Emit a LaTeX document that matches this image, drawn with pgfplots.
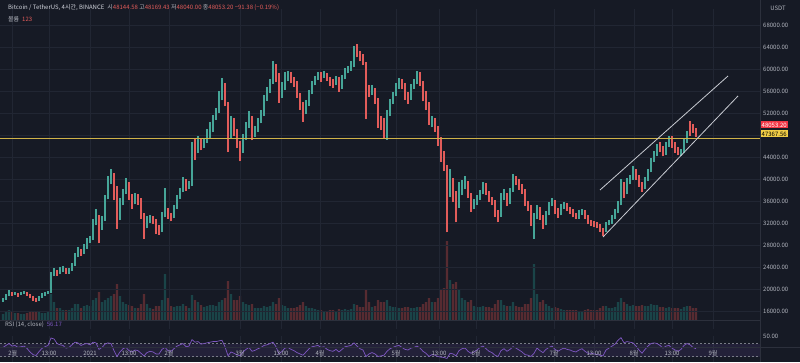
\documentclass[border=0pt]{standalone}
\usepackage{fontspec}
\usepackage{pgfplots}
\usepackage{pgfplotstable}
\pgfplotsset{compat=1.18}
\setmainfont{Noto Sans CJK KR}
\definecolor{bg}{RGB}{22,26,37}
\definecolor{gridc}{RGB}{33,38,51}
\definecolor{sepc}{RGB}{44,48,60}
\definecolor{upc}{RGB}{70,165,152}
\definecolor{dnc}{RGB}{226,92,90}
\definecolor{vupc}{RGB}{38,166,154}
\definecolor{vdnc}{RGB}{239,83,80}
\definecolor{txt}{RGB}{178,181,190}
\definecolor{ttl}{RGB}{209,212,220}
\definecolor{rsic}{RGB}{126,87,194}
\definecolor{hlinec}{RGB}{207,178,72}
\definecolor{hlab}{RGB}{240,205,70}
\definecolor{redlab}{RGB}{242,54,69}
\definecolor{chan}{RGB}{200,203,210}
\definecolor{dashc}{RGB}{120,123,134}
\newcommand\tvf{\fontsize{6}{7}\selectfont}

\pgfplotstableread{
x l h u v r
3 17600 18300 1 6 58
6 18000 19000 1 8 64
9 18800 19900 1 10 70
12 18700 19500 0 9 62
15 18900 19500 1 7 64
18 18600 19300 0 7 58
21 18900 19400 1 6 60
24 19000 19600 1 6 62
27 18800 19400 0 7 55
30 18300 19100 0 8 44
33 17800 18700 0 9 36
36 17600 18400 0 9 33
39 17900 18800 1 8 45
42 18400 19200 1 7 55
45 18800 19400 1 7 60
48 19000 19700 1 8 64
51 19300 23000 1 26 87
54 22300 23800 1 18 84
57 22400 23500 0 12 70
60 22800 24000 1 12 66
63 23100 24100 1 10 64
66 22800 23800 0 10 56
69 22700 23900 1 10 58
72 23300 24800 1 12 66
75 24200 26500 1 16 74
78 25800 27600 1 16 72
81 26000 27200 0 12 64
84 26400 28100 1 14 68
87 27300 29200 1 15 70
90 28300 29600 1 14 66
93 28900 32800 1 20 74
96 31600 34500 1 22 72
99 28300 33500 0 28 52
102 30800 33300 1 18 58
105 32400 37000 1 20 68
108 36300 40500 1 22 72
111 39000 41900 1 24 70
114 36200 41000 0 26 48
117 30900 38800 0 36 30
120 32500 36500 1 24 44
123 35200 38200 1 18 54
126 37300 40100 1 16 58
129 36200 39500 0 15 48
132 34500 37200 0 14 44
135 35400 37500 1 12 50
138 35300 37300 0 12 48
141 32800 36600 0 16 40
144 29100 33900 0 26 32
147 31000 33200 1 16 42
150 32000 33500 1 12 46
153 31800 33200 0 11 44
156 30000 32700 0 14 38
159 29900 31600 0 14 38
162 30400 34000 1 20 52
165 33000 38300 1 46 58
168 32800 34800 0 22 48
171 32300 33900 0 14 46
174 32900 35200 1 13 54
177 34600 37000 1 14 62
180 36400 38300 1 14 66
183 37600 40300 1 16 70
186 37900 40000 0 14 60
189 38100 39600 1 12 62
192 38800 46800 1 25 82
195 43500 47200 0 20 74
198 44800 47800 1 18 76
201 45200 47500 0 15 68
204 45600 47500 1 13 70
207 46500 49000 1 14 72
210 47500 50400 1 15 74
213 48600 51600 1 15 76
216 50800 52900 1 14 76
219 52000 56000 1 18 78
222 54300 58300 1 20 80
225 53200 57400 0 22 60
228 44900 54000 0 39 32
231 47500 51400 1 26 44
234 47800 51000 0 20 40
237 45600 49000 0 20 35
240 43200 46900 0 24 32
243 44800 48200 1 18 44
246 47100 50300 1 16 52
249 49300 52300 1 15 58
252 47000 51400 0 16 46
255 47600 49700 1 12 49
258 48500 51000 1 12 54
261 50100 52500 1 12 58
264 51500 55300 1 14 64
267 54200 56800 1 13 66
270 55600 58100 1 14 70
273 57300 61500 1 18 74
276 57600 60900 0 16 60
279 53900 59200 0 22 38
282 54800 57600 1 15 46
285 56200 59400 1 14 56
288 57800 59600 1 12 58
291 57400 59400 0 12 52
294 56800 58600 0 12 48
297 54800 57800 0 13 42
300 52500 55700 0 15 38
303 50400 54000 0 18 34
306 51800 54400 1 14 44
309 53300 56200 1 12 54
312 55400 57900 1 12 60
315 57000 58800 1 11 62
318 58000 59400 1 10 64
321 57700 59500 0 10 58
324 58400 59700 1 9 60
327 57800 59300 0 9 52
330 56900 58500 0 10 48
333 56600 58200 0 10 46
336 57100 58800 1 9 52
339 55800 58500 0 11 44
342 56400 58900 1 10 52
345 58100 60200 1 11 60
348 59200 60600 1 10 62
351 59600 61500 1 11 64
354 60300 64100 1 16 72
357 62100 64600 0 15 62
360 61400 63300 0 13 54
363 60700 62800 0 13 50
366 50900 61200 0 30 30
369 54900 57000 0 18 38
372 55300 57000 1 13 42
375 53700 56600 0 14 38
378 49300 54700 0 20 30
381 48900 51400 0 18 32
384 47400 51000 0 18 34
387 47100 52600 1 20 46
390 51500 54600 1 14 54
393 53600 55800 1 13 58
396 55000 57500 1 13 62
399 56400 58400 1 12 64
402 56300 58100 0 12 58
405 54400 57400 0 13 52
408 53600 55800 0 13 50
411 54400 57200 1 12 56
414 56400 58200 1 12 58
417 57200 59600 1 13 62
420 56900 59500 0 13 56
423 54100 57800 0 16 46
426 52500 56000 0 18 40
429 49800 54000 0 22 30
432 49400 51500 1 18 36
435 48600 51000 0 18 34
438 46000 49700 0 22 30
441 43100 47600 0 30 28
444 41500 45000 0 32 27
447 30300 42500 0 79 24
450 36800 41800 1 40 40
453 35800 40200 0 36 38
456 32100 37900 0 38 32
459 34700 39400 1 30 48
462 37000 39800 1 22 54
465 38200 40500 1 20 56
468 36500 39600 0 18 46
471 34000 37500 0 20 40
474 34500 36400 1 14 44
477 35300 37100 1 13 50
480 36200 38000 1 13 58
483 37200 39500 1 14 62
486 37100 39200 0 13 54
489 35900 37900 0 13 46
492 35200 36800 0 12 42
495 33100 36200 0 16 34
498 32100 34300 0 20 30
501 33100 37400 1 20 48
504 36200 38100 1 15 54
507 35000 37500 0 14 46
510 35500 38400 1 14 52
513 37700 40900 1 18 60
516 38900 40500 0 14 56
519 38000 40000 0 13 50
522 37300 39100 0 13 44
525 35000 38200 0 16 36
528 34200 36000 0 16 34
531 31500 35200 0 22 30
534 29100 33800 1 56 40
537 32800 35200 1 26 56
540 32500 34900 0 18 48
543 30900 33400 0 20 42
546 31700 34200 1 16 52
549 33400 35900 1 14 58
552 35000 36500 1 12 62
555 33600 36100 0 13 52
558 32900 34800 0 12 46
561 33400 35500 1 11 52
564 34600 35800 1 10 56
567 34200 35600 0 10 52
570 33600 34900 0 10 50
573 33000 34500 0 10 46
576 32700 33900 0 10 44
579 32800 34300 1 9 50
582 33500 34600 1 9 54
585 32800 34300 0 10 46
588 31800 33400 0 11 40
591 31500 32500 0 10 40
594 31200 32300 0 10 38
597 31000 32100 0 10 36
600 30400 31800 0 12 34
603 29700 31000 0 14 32
606 30300 32200 1 14 50
609 31600 32600 1 12 56
612 31900 33400 1 12 62
615 32800 34500 1 13 68
618 33800 36000 1 18 80
621 35200 40000 1 22 88
624 36500 39500 0 18 72
627 37200 40100 1 16 76
630 39000 40700 1 14 74
633 39800 42400 1 15 72
636 39800 41800 0 14 62
639 38600 40700 0 14 50
642 37600 39400 0 15 40
645 38100 40400 1 14 52
648 39600 41900 1 14 62
651 41200 43900 1 16 70
654 43100 45000 1 15 72
657 44200 46300 1 15 70
660 44900 46800 0 13 64
663 44100 46000 0 13 56
666 44400 46800 1 12 62
669 45900 47800 1 13 64
672 45600 47900 0 12 56
675 44800 46700 0 12 50
678 44300 45900 0 12 46
681 44200 45500 1 11 52
684 44800 47300 1 13 64
687 46600 48700 1 14 70
690 47900 50500 0 14 66
693 48400 50000 0 12 58
696 47700 49200 0 12 54
}\candles

\pgfplotsset{
  paneaxis/.style={scale only axis, anchor=south west, xmin=0, xmax=760,
    axis line style={draw=none}, major tick length=0pt,
    xtick={12.7,49,90,129,169,240,281,320,396,439,476,554,594,634,672,713},
    xticklabels={}, grid style={gridc, line width=0.5pt},
    scaled y ticks=false, scaled x ticks=false},
}

\begin{document}
\begin{tikzpicture}[x=1pt,y=1pt]
\useasboundingbox (0,0) rectangle (800,362);
\fill[bg] (0,0) rectangle (800,362);

% volume
\begin{axis}[paneaxis, name=vol, at={(0,42)}, width=760pt, height=320pt, ymin=0, ymax=320, ytick=\empty, xtick=\empty]
\addplot[ybar, bar width=2.4pt, bar shift=0pt, fill=vupc, fill opacity=0.3, draw=none,
  restrict expr to domain={\thisrow{u}}{0.5:1.5}] table[x=x, y=v]{\candles};
\addplot[ybar, bar width=2.4pt, bar shift=0pt, fill=vdnc, fill opacity=0.3, draw=none,
  restrict expr to domain={\thisrow{u}}{-0.5:0.5}] table[x=x, y=v]{\candles};
\end{axis}

% main price pane
\begin{axis}[paneaxis, name=main, at={(0,60)}, width=760pt, height=320pt, ymin=12727, ymax=70909,
  xmajorgrids, ymajorgrids,
  ytick={16000,20000,24000,28000,32000,36000,40000,44000,48000,52000,56000,60000,64000,68000},
  yticklabels={16000.00,20000.00,24000.00,28000.00,32000.00,36000.00,40000.00,44000.00,{},52000.00,56000.00,60000.00,64000.00,68000.00},
  yticklabel pos=right,
  yticklabel style={text=txt, font=\tvf, anchor=west, xshift=3pt, inner sep=0pt}]
\addplot[draw=none, mark=none, restrict expr to domain={\thisrow{u}}{0.5:1.5},
  error bars/.cd, y dir=plus, y explicit, error mark=none,
  error bar style={draw=upc, line width=1.2pt}]
  table[x=x, y=l, y error expr=\thisrow{h}-\thisrow{l}]{\candles};
\addplot[draw=none, mark=none, restrict expr to domain={\thisrow{u}}{-0.5:0.5},
  error bars/.cd, y dir=plus, y explicit, error mark=none,
  error bar style={draw=dnc, line width=1.2pt}]
  table[x=x, y=l, y error expr=\thisrow{h}-\thisrow{l}]{\candles};
\addplot[hlinec, line width=0.9pt] coordinates {(0,47367.56) (760,47367.56)};
\addplot[chan, line width=0.8pt] coordinates {(600,38000) (728,58727)};
\addplot[chan, line width=0.8pt] coordinates {(603,29455) (738,55091)};
\end{axis}

% RSI pane
\begin{axis}[paneaxis, name=rsi, at={(0,15)}, width=760pt, height=26pt, ymin=14.6, ymax=94.6,
  xmajorgrids, ytick=\empty]
\fill[rsic, fill opacity=0.13] (axis cs:0,30) rectangle (axis cs:760,70);
\draw[dashc, line width=0.5pt, dash pattern=on 2pt off 2pt] (axis cs:0,70) -- (axis cs:760,70);
\draw[dashc, line width=0.5pt, dash pattern=on 2pt off 2pt] (axis cs:0,30) -- (axis cs:760,30);
\addplot[rsic, line width=0.7pt] table[x=x, y=r]{\candles};
\end{axis}

% separators
\draw[sepc, line width=0.6pt] (0,41.5) -- (760,41.5);
\draw[sepc, line width=0.6pt] (0,15) -- (800,15);
\draw[sepc, line width=0.6pt] (760,0) -- (760,362);

% price labels
\node[fill=redlab, text=white, font=\tvf, inner sep=1pt, anchor=west, minimum height=7pt] at (760.5,237) {48053.20};
\node[fill=hlab, text=black, font=\tvf, inner sep=1pt, anchor=west, minimum height=7pt] at (760.5,228) {47367.56};
\node[text=txt, font=\tvf] at (778,354) {USDT};
\node[text=txt, font=\tvf, anchor=west, inner sep=0pt] at (763,26) {50.00};

% time labels
\foreach \xx/\lab in {12.7/2월, 49/13:00, 90/2021, 129/13:00, 169/2월, 240/3월, 281/13:00, 320/4월, 396/5월, 439/13:00, 476/6월, 554/7월, 594/13:00, 634/8월, 672/13:00, 713/9월}
  \node[text=txt, font=\tvf] at (\xx,8.5) {\lab};

% legend
\node[anchor=west, font=\tvf, inner sep=0pt] at (8,354) {\color{ttl}Bitcoin / TetherUS, 4시간, BINANCE\enspace\color{txt}시\color{dnc}48144.58 \color{txt}고\color{dnc}48169.43 \color{txt}저\color{dnc}48040.00 \color{txt}종\color{dnc}48053.20 −91.38 (−0.19\%)};
\node[anchor=west, font=\tvf, inner sep=0pt] at (8,343) {\color{txt}볼륨\enspace\color{dnc}123};
\node[anchor=west, font=\tvf, inner sep=0pt] at (5,37) {\color{txt}RSI (14, close)\enspace\color{rsic}56.17};
\end{tikzpicture}
\end{document}
